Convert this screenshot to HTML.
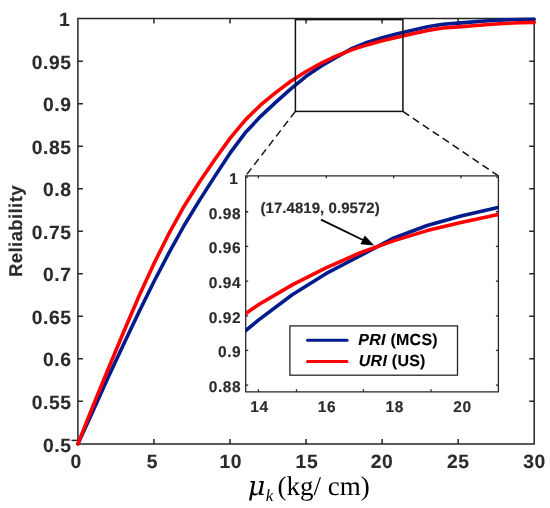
<!DOCTYPE html><html><head><meta charset="utf-8"><style>html,body{margin:0;padding:0;background:#fff;}svg{display:block;text-rendering:geometricPrecision;}.tl{font-family:"Liberation Sans",Arial,sans-serif;font-weight:bold;fill:#2b2b2b;stroke:#2b2b2b;stroke-width:0.15px;}</style></head><body>
<svg width="550" height="508" viewBox="0 0 550 508">
<rect x="0" y="0" width="550" height="508" fill="#fff"/>
<g stroke="#262626" stroke-width="1.5" fill="none" stroke-linecap="square">
<path d="M77.9,18.6 H534.2 V443.9 H77.9 Z"/>
<path d="M71.5,440.4 H77.9" stroke-linecap="butt"/>
<path d="M77.9,401.37 h5 M534.2,401.37 h-5" stroke-linecap="butt"/>
<path d="M77.9,358.84 h5 M534.2,358.84 h-5" stroke-linecap="butt"/>
<path d="M77.9,316.31 h5 M534.2,316.31 h-5" stroke-linecap="butt"/>
<path d="M77.9,273.78 h5 M534.2,273.78 h-5" stroke-linecap="butt"/>
<path d="M77.9,231.25 h5 M534.2,231.25 h-5" stroke-linecap="butt"/>
<path d="M77.9,188.72 h5 M534.2,188.72 h-5" stroke-linecap="butt"/>
<path d="M77.9,146.19 h5 M534.2,146.19 h-5" stroke-linecap="butt"/>
<path d="M77.9,103.66 h5 M534.2,103.66 h-5" stroke-linecap="butt"/>
<path d="M77.9,61.13 h5 M534.2,61.13 h-5" stroke-linecap="butt"/>
<path d="M153.95,443.9 v-5 M153.95,18.6 v5" stroke-linecap="butt"/>
<path d="M230.00,443.9 v-5 M230.00,18.6 v5" stroke-linecap="butt"/>
<path d="M306.05,443.9 v-5 M306.05,18.6 v5" stroke-linecap="butt"/>
<path d="M382.10,443.9 v-5 M382.10,18.6 v5" stroke-linecap="butt"/>
<path d="M458.15,443.9 v-5 M458.15,18.6 v5" stroke-linecap="butt"/>
</g>
<g class="tl" font-size="19.3" text-anchor="end" letter-spacing="0.6">
<text x="71.6" y="451.50">0.5</text>
<text x="71.6" y="408.97">0.55</text>
<text x="71.6" y="366.44">0.6</text>
<text x="71.6" y="323.91">0.65</text>
<text x="71.6" y="281.38">0.7</text>
<text x="71.6" y="238.85">0.75</text>
<text x="71.6" y="196.32">0.8</text>
<text x="71.6" y="153.79">0.85</text>
<text x="71.6" y="111.26">0.9</text>
<text x="71.6" y="68.73">0.95</text>
<text x="70.3" y="26.20">1</text>
</g>
<g class="tl" font-size="19.3" text-anchor="middle" letter-spacing="0.6">
<text x="76.20" y="468.4">0</text>
<text x="152.40" y="468.4">5</text>
<text x="230.80" y="468.4">10</text>
<text x="306.90" y="468.4">15</text>
<text x="382.10" y="468.4">20</text>
<text x="458.30" y="468.4">25</text>
<text x="534.60" y="468.4">30</text>
</g>
<text class="tl" font-size="18.5" text-anchor="middle" transform="translate(22.0,231.0) rotate(-90)" letter-spacing="0.4">Reliability</text>
<text font-family="Liberation Serif,Times New Roman,serif" font-size="27" fill="#000" y="494.6"><tspan x="247.8" font-family="DejaVu Serif,serif" font-style="italic" font-size="27">μ</tspan><tspan font-style="italic" font-size="17" dy="6.5" dx="0.5">k</tspan><tspan dy="-6.5" dx="4">(kg/ cm)</tspan></text>
<polyline points="77.9,443.9 93.1,410.7 108.3,376.9 123.5,344.4 138.7,312.5 154.0,281.5 169.2,252.4 184.4,225.0 199.6,200.1 214.8,176.4 230.0,153.2 245.2,132.8 260.4,116.6 275.6,102.4 290.8,88.8 306.1,76.3 321.3,66.0 336.5,57.3 351.7,48.6 366.9,42.4 382.1,37.7 397.3,33.8 412.5,30.2 427.7,26.7 442.9,24.3 458.2,23.1 473.4,21.9 488.6,20.8 503.8,19.9 519.0,19.5 534.2,19.4" fill="none" stroke="#001c8c" stroke-width="3.6" stroke-linejoin="round" stroke-linecap="round"/>
<polyline points="77.9,443.9 93.1,405.7 108.3,368.8 123.5,332.2 138.7,296.7 154.0,263.5 169.2,233.1 184.4,205.7 199.6,181.7 214.8,159.5 230.0,138.4 245.2,120.1 260.4,105.2 275.6,92.6 290.8,81.3 306.1,71.5 321.3,63.2 336.5,55.9 351.7,49.9 366.9,44.9 382.1,40.8 397.3,37.3 412.5,33.8 427.7,30.4 442.9,28.0 458.2,26.9 473.4,25.7 488.6,24.5 503.8,23.5 519.0,22.8 534.2,22.4" fill="none" stroke="#ff0000" stroke-width="3.6" stroke-linejoin="round" stroke-linecap="round"/>
<rect x="295.4" y="19.6" width="107.5" height="91.8" fill="none" stroke="#111" stroke-width="1.5"/>
<g stroke="#111" stroke-width="1.5" stroke-dasharray="7.5 4.5" fill="none">
<path d="M295.4,111.4 L245.7,175.8"/>
<path d="M402.9,111.4 L498.4,175.8"/>
</g>
<rect x="245.7" y="175.8" width="252.7" height="216.0" fill="#fff"/>
<g stroke="#262626" stroke-width="1.3" fill="none">
<path d="M245.7,175.8 H498.4 V391.8 H245.7 Z"/>
<path d="M245.7,177.10 h2.5 M498.4,177.10 h-2.5"/>
<path d="M245.7,211.77 h2.5 M498.4,211.77 h-2.5"/>
<path d="M245.7,246.44 h2.5 M498.4,246.44 h-2.5"/>
<path d="M245.7,281.11 h2.5 M498.4,281.11 h-2.5"/>
<path d="M245.7,315.78 h2.5 M498.4,315.78 h-2.5"/>
<path d="M245.7,350.45 h2.5 M498.4,350.45 h-2.5"/>
<path d="M245.7,385.12 h2.5 M498.4,385.12 h-2.5"/>
<path d="M258.4,175.8 v2.5"/>
<path d="M326.3,175.8 v2.5"/>
<path d="M393.6,175.8 v2.5"/>
<path d="M461.0,175.8 v2.5"/>
<path d="M258.4,391.8 v-2.5"/>
<path d="M296.5,391.8 v-2.5"/>
<path d="M363.4,391.8 v-2.5"/>
<path d="M431.0,391.8 v-2.5"/>
</g>
<g class="tl" font-size="15.5" text-anchor="end" letter-spacing="0.6">
<text x="238.6" y="183.90">1</text>
<text x="241.3" y="218.57">0.98</text>
<text x="241.3" y="253.24">0.96</text>
<text x="241.3" y="287.91">0.94</text>
<text x="241.3" y="322.58">0.92</text>
<text x="241.3" y="357.25">0.9</text>
<text x="241.3" y="391.92">0.88</text>
</g>
<g class="tl" font-size="15.5" text-anchor="middle" letter-spacing="0.6">
<text x="259.6" y="411.6">14</text>
<text x="327.1" y="411.6">16</text>
<text x="394.8" y="411.6">18</text>
<text x="462.40000000000003" y="411.6">20</text>
</g>
<clipPath id="ic"><rect x="245.7" y="175.8" width="252.7" height="216.0"/></clipPath>
<g clip-path="url(#ic)">
<polyline points="190.9,376.8 224.6,347.9 258.4,320.1 292.2,294.8 325.9,273.7 359.7,256.0 393.4,238.2 427.2,225.5 461.0,216.0 494.7,208.2 528.5,200.7 562.2,193.6" fill="none" stroke="#001c8c" stroke-width="3.6" stroke-linejoin="round" stroke-linecap="round"/>
<polyline points="190.9,353.6 224.6,327.9 258.4,304.8 292.2,284.9 325.9,267.9 359.7,253.0 393.4,240.9 427.2,230.6 461.0,222.4 494.7,215.2 528.5,208.1 562.2,201.2" fill="none" stroke="#ff0000" stroke-width="3.6" stroke-linejoin="round" stroke-linecap="round"/>
</g>
<text class="tl" font-size="15" x="260.5" y="213.3" letter-spacing="0.05">(17.4819, 0.9572)</text>
<path d="M321,219.6 L363.5,240.3" stroke="#000" stroke-width="1.8"/>
<path d="M374.3,245.6 L360.4,244.2 L364.8,235.6 Z" fill="#000"/>
<rect x="289.9" y="325.9" width="167.6" height="49.3" fill="#fff" stroke="#262626" stroke-width="1.3"/>
<path d="M307.5,340.2 H347" stroke="#001c8c" stroke-width="3" stroke-linecap="round"/>
<path d="M307.5,361.5 H347" stroke="#ff0000" stroke-width="3" stroke-linecap="round"/>
<g font-family="Liberation Sans,Arial,sans-serif" font-weight="bold" font-size="16" letter-spacing="0.25" fill="#000" stroke="#000" stroke-width="0.1">
<text x="358.3" y="345.1"><tspan font-style="italic">PRI</tspan> (MCS)</text>
<text x="358.8" y="366.1"><tspan font-style="italic">URI</tspan> (US)</text>
</g>
</svg></body></html>
